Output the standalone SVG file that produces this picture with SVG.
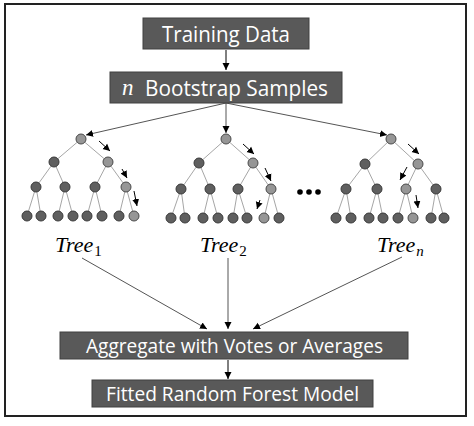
<svg xmlns="http://www.w3.org/2000/svg" width="474" height="426" viewBox="0 0 474 426">
<defs>
<marker id="ah" markerUnits="userSpaceOnUse" markerWidth="8" markerHeight="8" refX="7" refY="4" orient="auto">
<path d="M0,0.5 L7,4 L0,7.5 Z" fill="#000"/>
</marker>
<style>
.box{fill:#595959;stroke:#404040;stroke-width:1}
.bt{fill:#ffffff;font-family:"Open Sans","Liberation Sans",sans-serif;font-size:21px}
.bs{font-size:20px}
.e{stroke:#a6a6a6;stroke-width:1;fill:none}
.n{fill:#5f5f5f;stroke:#3a3a3a;stroke-width:1}
.h{fill:#969696;stroke:#4a4a4a;stroke-width:1}
.c{stroke:#000;stroke-width:1;fill:none;marker-end:url(#ah)}
.cg{stroke:#555;stroke-width:1;fill:none;marker-end:url(#ah)}
.tl{font-family:"Liberation Serif","Times New Roman",serif;font-style:italic;font-size:22px;fill:#000}
.sub{font-size:15px}
.up{font-style:normal}
</style>
</defs>
<rect x="5" y="4" width="461" height="412" fill="#fff" stroke="#222" stroke-width="2"/>

<g id="connectors">
<line class="c" x1="226" y1="50" x2="226" y2="70"/>
<line class="cg" x1="226" y1="103" x2="86" y2="135"/>
<line class="cg" x1="226" y1="103" x2="226" y2="133"/>
<line class="cg" x1="226" y1="103" x2="387" y2="135"/>
<line class="cg" x1="82" y1="258" x2="207" y2="329"/>
<line class="cg" x1="228" y1="258" x2="228" y2="329"/>
<line class="cg" x1="402" y1="257" x2="253" y2="329"/>
<line class="c" x1="228" y1="360" x2="228" y2="379"/>
</g>

<g id="training-data">
<rect class="box" x="143" y="18" width="166" height="31"/>
<text class="bt" x="226" y="42" text-anchor="middle" textLength="128" lengthAdjust="spacingAndGlyphs">Training Data</text>
</g>

<g id="bootstrap">
<rect class="box" x="110" y="72" width="232" height="31"/>
<text x="122" y="95" font-family="Liberation Serif,serif" font-style="italic" font-size="23" fill="#fff">n</text>
<text class="bt" x="145" y="96" textLength="183" lengthAdjust="spacingAndGlyphs">Bootstrap Samples</text>
</g>

<g id="tree1">
<g class="e">
<line x1="81" y1="139" x2="54" y2="162"/><line x1="81" y1="139" x2="108" y2="162"/>
<line x1="54" y1="162" x2="36" y2="187"/><line x1="54" y1="162" x2="65" y2="187"/>
<line x1="108" y1="162" x2="95" y2="187"/><line x1="108" y1="162" x2="126" y2="187"/>
<line x1="36" y1="187" x2="27" y2="216"/><line x1="36" y1="187" x2="41" y2="216"/>
<line x1="65" y1="187" x2="58" y2="216"/><line x1="65" y1="187" x2="73" y2="216"/>
<line x1="95" y1="187" x2="87" y2="216"/><line x1="95" y1="187" x2="102" y2="216"/>
<line x1="126" y1="187" x2="119" y2="216"/><line x1="126" y1="187" x2="134" y2="216"/>
</g>
<circle class="h" cx="81" cy="139" r="5"/>
<circle class="n" cx="54" cy="162" r="5"/><circle class="h" cx="108" cy="162" r="5"/>
<circle class="n" cx="36" cy="187" r="5"/><circle class="n" cx="65" cy="187" r="5"/><circle class="n" cx="95" cy="187" r="5"/><circle class="h" cx="126" cy="187" r="5"/>
<circle class="n" cx="27" cy="216" r="5"/><circle class="n" cx="41" cy="216" r="5"/><circle class="n" cx="58" cy="216" r="5"/><circle class="n" cx="73" cy="216" r="5"/>
<circle class="n" cx="87" cy="216" r="5"/><circle class="n" cx="102" cy="216" r="5"/><circle class="n" cx="119" cy="216" r="5"/><circle class="h" cx="134" cy="216" r="5"/>
<line class="c" x1="99" y1="141" x2="110" y2="151"/>
<line class="c" x1="122" y1="169" x2="127" y2="178"/>
<line class="c" x1="134" y1="191" x2="137" y2="206"/>
<text class="tl" x="55" y="252">Tree<tspan class="sub up" dx="1" dy="4">1</tspan></text>
</g>

<g id="tree2">
<g class="e">
<line x1="226" y1="139" x2="199" y2="163"/><line x1="226" y1="139" x2="253" y2="163"/>
<line x1="199" y1="163" x2="181" y2="189"/><line x1="199" y1="163" x2="210" y2="189"/>
<line x1="253" y1="163" x2="238" y2="189"/><line x1="253" y1="163" x2="271" y2="189"/>
<line x1="181" y1="189" x2="171" y2="218"/><line x1="181" y1="189" x2="185" y2="218"/>
<line x1="210" y1="189" x2="203" y2="218"/><line x1="210" y1="189" x2="218" y2="218"/>
<line x1="238" y1="189" x2="233" y2="218"/><line x1="238" y1="189" x2="247" y2="218"/>
<line x1="271" y1="189" x2="264" y2="218"/><line x1="271" y1="189" x2="279" y2="218"/>
</g>
<circle class="h" cx="226" cy="139" r="5"/>
<circle class="n" cx="199" cy="163" r="5"/><circle class="h" cx="253" cy="163" r="5"/>
<circle class="n" cx="181" cy="189" r="5"/><circle class="n" cx="210" cy="189" r="5"/><circle class="n" cx="238" cy="189" r="5"/><circle class="h" cx="271" cy="189" r="5"/>
<circle class="n" cx="171" cy="218" r="5"/><circle class="n" cx="185" cy="218" r="5"/><circle class="n" cx="203" cy="218" r="5"/><circle class="n" cx="218" cy="218" r="5"/>
<circle class="n" cx="233" cy="218" r="5"/><circle class="n" cx="247" cy="218" r="5"/><circle class="h" cx="264" cy="218" r="5"/><circle class="n" cx="279" cy="218" r="5"/>
<line class="c" x1="243" y1="144" x2="254" y2="154"/>
<line class="c" x1="265" y1="168" x2="271" y2="181"/>
<line class="c" x1="260" y1="200" x2="257" y2="209"/>
<text class="tl" x="200" y="252">Tree<tspan class="sub up" dx="1" dy="4">2</tspan></text>
</g>

<g id="ellipsis">
<circle cx="300" cy="192" r="2.8" fill="#000"/>
<circle cx="309" cy="192" r="2.8" fill="#000"/>
<circle cx="318" cy="192" r="2.8" fill="#000"/>
</g>

<g id="treen">
<g class="e">
<line x1="391" y1="139" x2="365" y2="164"/><line x1="391" y1="139" x2="418" y2="164"/>
<line x1="365" y1="164" x2="346" y2="189"/><line x1="365" y1="164" x2="377" y2="189"/>
<line x1="418" y1="164" x2="406" y2="189"/><line x1="418" y1="164" x2="436" y2="189"/>
<line x1="346" y1="189" x2="336" y2="218"/><line x1="346" y1="189" x2="351" y2="218"/>
<line x1="377" y1="189" x2="369" y2="218"/><line x1="377" y1="189" x2="383" y2="218"/>
<line x1="406" y1="189" x2="398" y2="218"/><line x1="406" y1="189" x2="413" y2="218"/>
<line x1="436" y1="189" x2="431" y2="218"/><line x1="436" y1="189" x2="444" y2="218"/>
</g>
<circle class="h" cx="391" cy="139" r="5"/>
<circle class="n" cx="365" cy="164" r="5"/><circle class="h" cx="418" cy="164" r="5"/>
<circle class="n" cx="346" cy="189" r="5"/><circle class="n" cx="377" cy="189" r="5"/><circle class="h" cx="406" cy="189" r="5"/><circle class="n" cx="436" cy="189" r="5"/>
<circle class="n" cx="336" cy="218" r="5"/><circle class="n" cx="351" cy="218" r="5"/><circle class="n" cx="369" cy="218" r="5"/><circle class="n" cx="383" cy="218" r="5"/>
<circle class="n" cx="398" cy="218" r="5"/><circle class="h" cx="413" cy="218" r="5"/><circle class="n" cx="431" cy="218" r="5"/><circle class="n" cx="444" cy="218" r="5"/>
<line class="c" x1="408" y1="144" x2="419" y2="154"/>
<line class="c" x1="407" y1="167" x2="400" y2="180"/>
<line class="c" x1="416" y1="195" x2="418" y2="208"/>
<text class="tl" x="377" y="252">Tree<tspan class="sub" dx="1" dy="4">n</tspan></text>
</g>

<g id="aggregate">
<rect class="box" x="60" y="332" width="348" height="27"/>
<text class="bt bs" x="86" y="353" textLength="297" lengthAdjust="spacingAndGlyphs">Aggregate with Votes or Averages</text>
</g>

<g id="fitted">
<rect class="box" x="92" y="380" width="281" height="27"/>
<text class="bt bs" x="106" y="401" textLength="253" lengthAdjust="spacingAndGlyphs">Fitted Random Forest Model</text>
</g>
</svg>
